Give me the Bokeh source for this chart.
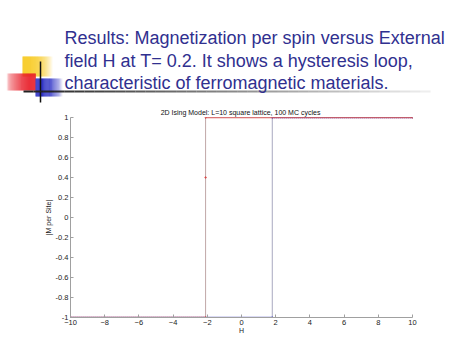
from bokeh.plotting import figure
from bokeh.layouts import column
from bokeh.models import Range1d, FixedTicker
from bokeh.core.properties import value
from bokeh.embed import file_html
from bokeh.resources import INLINE

# ---------------- data ----------------
slide_lines = [
    "Results: Magnetization per spin versus External",
    "field H at T= 0.2. It shows a hysteresis loop,",
    "characteristic of ferromagnetic materials.",
]
chart_title = "2D Ising Model:  L=10 square lattice, 100 MC cycles"
x_label = "H"
y_label = "|M per Site|"

# sweep up (blue) and sweep down (red)
blue_H = [-10, 1.8, 1.8, 10]
blue_M = [-1, -1, 1, 1]
red_H = [10, -2.1, -2.1, -2.1, -10]
red_M = [1, 1, 0.4, -1, -1]

x_ticks = [-10, -8, -6, -4, -2, 0, 2, 4, 6, 8, 10]
y_ticks = [-1, -0.8, -0.6, -0.4, -0.2, 0, 0.2, 0.4, 0.6, 0.8, 1]
y_tick_labels = ["-1", "-0.8", "-0.6", "-0.4", "-0.2", "0", "0.2", "0.4", "0.6", "0.8", "1"]

W = 474
TOP_H = 103
PLOT_H = 251

# ---------------- slide header ----------------
top = figure(width=W, height=TOP_H, output_backend="svg", toolbar_location=None,
             x_range=Range1d(0, W), y_range=Range1d(TOP_H, 0),
             x_axis_location=None, y_axis_location=None,
             min_border=0, min_border_left=0, min_border_right=0,
             min_border_top=0, min_border_bottom=0)
top.grid.visible = False
top.outline_line_color = None

def fade_rect(x0, x1, y0, y1, color, direction, n=30):
    # direction: +1 fades toward the right, -1 fades toward the left
    w = (x1 - x0) / n
    lefts, rights, alphas = [], [], []
    for i in range(n):
        lefts.append(x0 + i * w)
        rights.append(x0 + (i + 1) * w + 0.3)
        t = i / (n - 1)
        a = 1 - 0.95 * t * t if direction > 0 else 0.05 + 0.95 * (t ** 0.5)
        alphas.append(a)
    top.quad(left=lefts, right=rights, top=[y0] * n, bottom=[y1] * n,
             fill_color=color, fill_alpha=alphas, line_color=None)

# decorative icon
fade_rect(22, 52, 56, 76, "#f7c81a", +1)
fade_rect(6, 35, 73, 90, "#e8202a", -1)
fade_rect(35, 62, 78, 96, "#2b2fc4", +1)
top.line(x=[40, 40], y=[61, 102], line_color="#111111", line_width=1.5)
# separator line fading to the right
n = 40
xs0 = [23 + i * (430 - 23) / n for i in range(n)]
xs1 = [23 + (i + 1) * (430 - 23) / n for i in range(n)]
top.segment(x0=xs0, x1=xs1, y0=[91] * n, y1=[91] * n, line_color="#222222",
            line_alpha=[1 - 0.92 * i / (n - 1) for i in range(n)], line_width=2)

top.text(x=[64] * 3, y=[37, 60, 82], text=slide_lines,
         text_font=value("Liberation Sans"), text_font_size="18px",
         text_color="#30308f", text_baseline="alphabetic", text_align="left")

# ---------------- MATLAB style plot ----------------
p = figure(width=W, height=PLOT_H, output_backend="svg", toolbar_location=None,
           x_range=Range1d(-10, 10), y_range=Range1d(-1, 1),
           min_border_left=70, min_border_right=62, min_border_top=14,
           min_border_bottom=37)
p.title.text = chart_title
p.title.text_font = "Liberation Sans"
p.title.text_font_size = "7px"
p.title.text_font_style = "normal"
p.title.text_color = "#111111"
p.title.align = "center"
p.title.standoff = 4
p.grid.visible = False
p.outline_line_color = None

for ax in (p.xaxis[0], p.yaxis[0]):
    ax.axis_line_color = "#a0a0a0"
    ax.major_tick_line_color = "#a0a0a0"
    ax.major_tick_in = 3
    ax.major_tick_out = 0
    ax.minor_tick_line_color = None
    ax.major_label_text_font = "Liberation Sans"
    ax.major_label_text_font_size = "7.5px"
    ax.major_label_text_color = "#222222"
    ax.major_label_standoff = 2
    ax.axis_label_text_font = "Liberation Sans"
    ax.axis_label_text_font_size = "7px"
    ax.axis_label_text_font_style = "normal"
    ax.axis_label_text_color = "#222222"

p.xaxis.axis_label_standoff = -1
p.yaxis.axis_label_standoff = 1
p.xaxis.ticker = FixedTicker(ticks=x_ticks)
p.yaxis.ticker = FixedTicker(ticks=y_ticks)
p.yaxis.major_label_overrides = {t: l for t, l in zip(y_ticks, y_tick_labels)}
p.xaxis.axis_label = x_label
p.yaxis.axis_label = y_label

for fig in (top, p):
    if "frame_align" in fig.properties():
        fig.frame_align = False

def draw_series(H, M, color, pale):
    p.line(H, M, line_color=pale, line_width=1)
    p.scatter(H, M, size=1.5, color=color, alpha=0.7)
    # horizontal runs drawn as the dotted marker trail
    x0, x1, y0, y1 = [], [], [], []
    for i in range(len(H) - 1):
        if M[i] == M[i + 1] and H[i] != H[i + 1]:
            x0.append(H[i]); x1.append(H[i + 1]); y0.append(M[i]); y1.append(M[i + 1])
    p.segment(x0=x0, x1=x1, y0=y0, y1=y1, line_color=color, line_width=1)
    p.segment(x0=x0, x1=x1, y0=y0, y1=y1, line_color=color, line_width=2,
              line_dash="1 1", line_alpha=0.8)

draw_series(blue_H, blue_M, "#4a4ac8", "#a8a8c0")
draw_series(red_H, red_M, "#d83a3a", "#c0a8a8")

layout = column(top, p, spacing=0)
open("out.html", "w").write(file_html(layout, INLINE))
